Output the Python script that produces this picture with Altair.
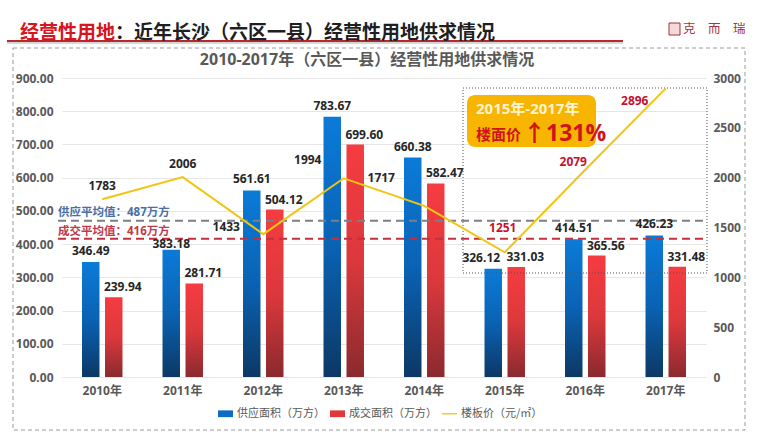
import altair as alt
import pandas as pd

# ---------------- data ----------------
years = ["2010年", "2011年", "2012年", "2013年", "2014年", "2015年", "2016年", "2017年"]
supply = [346.49, 383.18, 561.61, 783.67, 660.38, 326.12, 414.51, 426.23]
deal = [239.94, 281.71, 504.12, 699.60, 582.47, 331.03, 365.56, 331.48]
price = [1783, 2006, 1433, 1994, 1717, 1251, 2079, 2896]
series_names = ["供应面积（万方）", "成交面积（万方）", "楼板价（元/㎡）"]
avg_labels = ["供应平均值：487万方", "成交平均值：416万方"]
avg_levels = [470, 416]

FONT = "Noto Sans CJK SC"
NUMFONT = "Open Sans, Noto Sans CJK SC"

bars_df = pd.DataFrame({
    "year": years * 2,
    "series": [series_names[0]] * len(years) + [series_names[1]] * len(years),
    "value": supply + deal,
})
line_df = pd.DataFrame({"year": years, "price": price})

x_enc = alt.X("year:N", sort=years, title=None,
              scale=alt.Scale(paddingInner=0, paddingOuter=0),
              axis=alt.Axis(labelFont=NUMFONT, labelFontSize=12, labelFontWeight="bold",
                            labelColor="#595959", ticks=False, domain=False, labelPadding=8,
                            labelAngle=0, grid=False))
xo_enc = alt.XOffset("series:N", sort=series_names[:2],
                     scale=alt.Scale(domain=series_names[:2], paddingInner=0.24, paddingOuter=0.87))
y_left = alt.Y("value:Q", title=None,
               scale=alt.Scale(domain=[0, 900], nice=False, zero=True),
               axis=alt.Axis(values=list(range(0, 1000, 100)), format=".2f", labelFont=NUMFONT,
                             labelFontSize=12, labelFontWeight="bold", labelColor="#595959",
                             ticks=False, domain=False, labelPadding=9, gridColor="#e6e6e6",
                             orient="left"))
y_right = alt.Y("price:Q", title=None,
                scale=alt.Scale(domain=[0, 3000], nice=False, zero=True),
                axis=alt.Axis(values=list(range(0, 3500, 500)), format="d", labelFont=NUMFONT,
                              labelFontSize=12, labelFontWeight="bold", labelColor="#595959",
                              ticks=False, domain=False, labelPadding=7, grid=False,
                              orient="right"))

blue_grad = alt.Gradient(gradient="linear", x1=0, x2=0, y1=0, y2=1, stops=[
    alt.GradientStop(color="#0b7bd8", offset=0),
    alt.GradientStop(color="#0a62b3", offset=0.5),
    alt.GradientStop(color="#0c3865", offset=1)])
red_grad = alt.Gradient(gradient="linear", x1=0, x2=0, y1=0, y2=1, stops=[
    alt.GradientStop(color="#f53c41", offset=0),
    alt.GradientStop(color="#dc383c", offset=0.5),
    alt.GradientStop(color="#8a2a2e", offset=1)])

base = alt.Chart(bars_df)
blue_bars = base.transform_filter(alt.datum.series == series_names[0]).mark_bar(
    color=blue_grad).encode(x=x_enc, xOffset=xo_enc, y=y_left)
red_bars = base.transform_filter(alt.datum.series == series_names[1]).mark_bar(
    color=red_grad).encode(x=x_enc, xOffset=xo_enc, y=y_left)

lab_common = dict(font=NUMFONT, fontSize=12, fontWeight="bold", color="#262626", baseline="middle")
blue_lab_normal = base.transform_filter(
    (alt.datum.series == series_names[0]) & (alt.datum.year != "2015年") & (alt.datum.year != "2011年")
).mark_text(dy=-11, **lab_common).encode(x=x_enc, xOffset=xo_enc, y=y_left,
                                         text=alt.Text("value:Q", format=".2f"))
blue_lab_2011 = base.transform_filter(
    (alt.datum.series == series_names[0]) & (alt.datum.year == "2011年")
).mark_text(dy=-6, **lab_common).encode(x=x_enc, xOffset=xo_enc, y=y_left,
                                        text=alt.Text("value:Q", format=".2f"))
blue_lab_2015 = base.transform_filter(
    (alt.datum.series == series_names[0]) & (alt.datum.year == "2015年")
).mark_text(dx=-12, dy=-11, **lab_common).encode(x=x_enc, xOffset=xo_enc, y=y_left,
                                                 text=alt.Text("value:Q", format=".2f"))
red_lab = base.transform_filter(alt.datum.series == series_names[1]).mark_text(
    dx=9, dy=-10, **lab_common).encode(x=x_enc, xOffset=xo_enc, y=y_left,
                                       text=alt.Text("value:Q", format=".2f"))

# average lines
avg_df = pd.DataFrame({"value": avg_levels, "label": avg_labels, "kind": ["s", "d"]})
avg_colors = {"s": ("#7a8088", "#4a6fa8"), "d": ("#c2303d", "#c0394a")}
avg_layers = []
for kind, dy in (("s", -8), ("d", -7)):
    sub = alt.Chart(avg_df).transform_filter(alt.datum.kind == kind)
    avg_layers.append(sub.mark_rule(color=avg_colors[kind][0], strokeWidth=2,
                                    strokeDash=[8, 5]).encode(
        y=y_left, x=alt.value(-4), x2=alt.value(644)))
    avg_layers.append(sub.mark_text(align="left", baseline="middle", dy=dy, font=NUMFONT,
                                    fontSize=11.5, fontWeight="bold",
                                    color=avg_colors[kind][1]).encode(
        y=y_left, x=alt.value(-4), text="label:N"))

# ---------------- decorations ----------------
def one(text=""):
    return alt.Chart(pd.DataFrame({"t": [text]}))

border = one().mark_rect(fill=None, stroke="#9a9a9a", strokeDash=[4, 3], strokeWidth=1).encode(
    x=alt.value(-49), x2=alt.value(683), y=alt.value(-30), y2=alt.value(352))
underline_shadow = one().mark_rule(color="#d6d6d6", strokeWidth=2).encode(
    x=alt.value(-55), x2=alt.value(561), y=alt.value(-35))
underline = one().mark_rule(color="#b8282e", strokeWidth=2).encode(
    x=alt.value(-55), x2=alt.value(561), y=alt.value(-37))
header_red = one("经营性用地").mark_text(
    align="left", baseline="middle", font=FONT, fontSize=19, fontWeight="bold",
    color="#d8141c").encode(x=alt.value(-42), y=alt.value(-45), text="t:N")
header_dark = one("：近年长沙（六区一县）经营性用地供求情况").mark_text(
    align="left", baseline="middle", font=FONT, fontSize=19, fontWeight="bold",
    color="#1f1f1f").encode(x=alt.value(53), y=alt.value(-45), text="t:N")
logo_box = one().mark_rect(fill="#f3d9dc", stroke="#a8323e", strokeWidth=1).encode(
    x=alt.value(607), x2=alt.value(618), y=alt.value(-55), y2=alt.value(-43))
logo_text = one("克\u3000而\u3000瑞").mark_text(
    align="left", baseline="middle", font=FONT, fontSize=12.5, color="#a8323e").encode(
    x=alt.value(621), y=alt.value(-49), text="t:N")
chart_title = one("2010-2017年（六区一县）经营性用地供求情况").mark_text(
    align="center", baseline="middle", font=NUMFONT, fontSize=16, fontWeight="bold",
    color="#595959").encode(x=alt.value(305), y=alt.value(-18), text="t:N")
annot_rect = one().mark_rect(fill=None, stroke="#555555", strokeDash=[1, 2], strokeWidth=1).encode(
    x=alt.value(401), x2=alt.value(645), y=alt.value(10), y2=alt.value(195))
orange_box = one().mark_rect(fill="#f7b500", cornerRadius=8).encode(
    x=alt.value(405), x2=alt.value(534), y=alt.value(17), y2=alt.value(69))
annot_t1 = one("2015年-2017年").mark_text(
    align="left", baseline="middle", font=NUMFONT, fontSize=15, fontWeight="bold",
    color="#fff3d2").encode(x=alt.value(414), y=alt.value(31), text="t:N")
annot_t2 = one("楼面价").mark_text(
    align="left", baseline="middle", font=FONT, fontSize=15, fontWeight="bold",
    color="#d0141c").encode(x=alt.value(414), y=alt.value(57), text="t:N")
annot_t3 = one("↑131%").mark_text(
    align="left", baseline="middle", font=NUMFONT, fontSize=23, fontWeight="bold",
    color="#d0141c").encode(x=alt.value(461), y=alt.value(56), text="t:N")

# legend layer
legend_df = pd.DataFrame({"series": series_names})
rect_path = "M-1,-0.45H1V0.45H-1Z"
line_path = "M-1,-0.09H1V0.09H-1Z"
leg = alt.Legend(title=None, orient="none", legendX=156, legendY=328, direction="horizontal",
                 columns=3, labelFont=FONT, labelFontSize=11, labelColor="#595959",
                 symbolSize=225, symbolOpacity=1, symbolStrokeWidth=0, labelOffset=4,
                 columnPadding=5)
legend_layer = alt.Chart(legend_df).mark_point(filled=True, opacity=0).encode(
    color=alt.Color("series:N", sort=series_names, legend=leg,
                    scale=alt.Scale(domain=series_names, range=["#0b6cc4", "#e0383c", "#f2c413"])),
    shape=alt.Shape("series:N", sort=series_names, legend=leg,
                    scale=alt.Scale(domain=series_names, range=[rect_path, rect_path, line_path])))

left = alt.layer(border, underline_shadow, underline, header_red, header_dark, logo_box, logo_text,
                 chart_title, blue_bars, red_bars, *avg_layers, blue_lab_normal, blue_lab_2011,
                 blue_lab_2015, red_lab, annot_rect, orange_box, annot_t1, annot_t2, annot_t3,
                 legend_layer)

# line + labels (right axis)
line = alt.Chart(line_df).mark_line(color="#f2c413", strokeWidth=2).encode(x=x_enc, y=y_right)
label_offsets = {
    "2010年": (0, -13), "2011年": (0, -13), "2012年": (-37, -7), "2013年": (-36, -18),
    "2014年": (-43, -28), "2015年": (-2, -24), "2016年": (-12, -8), "2017年": (-31, 13),
}
line_labels = []
for i, yr in enumerate(years):
    dx, dy = label_offsets[yr]
    col = "#262626" if i < 5 else "#c8102e"
    line_labels.append(
        alt.Chart(line_df).transform_filter(alt.datum.year == yr).mark_text(
            dx=dx, dy=dy, font=NUMFONT, fontSize=12, fontWeight="bold", color=col,
            baseline="middle").encode(x=x_enc, y=y_right, text="price:Q"))
right = alt.layer(line, *line_labels)

chart = alt.layer(left, right).resolve_scale(y="independent").properties(
    width=644, height=299,
    autosize=alt.AutoSizeParams(type="none"),
    padding={"left": 62, "top": 78, "right": 53, "bottom": 66},
    background="white",
).configure_view(stroke=None)

chart.save("out.html", embed_options={"renderer": "svg", "actions": False})
